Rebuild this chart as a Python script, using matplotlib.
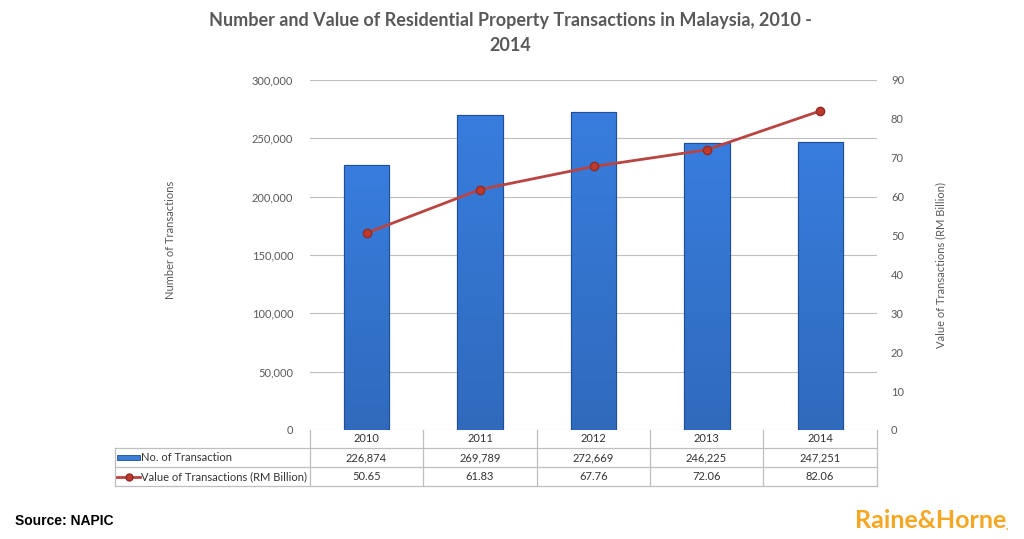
import numpy as np
import matplotlib
matplotlib.use("Agg")
import matplotlib.pyplot as plt
from matplotlib.lines import Line2D
from matplotlib.patches import Rectangle

years = ["2010", "2011", "2012", "2013", "2014"]
transactions = [226874, 269789, 272669, 246225, 247251]
value_rm_bn = [50.65, 61.83, 67.76, 72.06, 82.06]
row_labels = ["No. of Transaction", "Value of Transactions (RM Billion)"]

W, H = 1024, 539
TXT = "#595959"
GRID = "#bfbfbf"


def fx(px):
    return px / W


def fy(py):
    return 1 - py / H


fig = plt.figure(figsize=(W / 100, H / 100), dpi=100)
plt.rcParams["font.family"] = ["Lato", "DejaVu Sans"]

ax = fig.add_axes([fx(310), fy(430), fx(877) - fx(310), fy(80) - fy(430)])
x = np.arange(len(years))

# bars with a simple vertical gradient
bars = ax.bar(x, transactions, width=0.4, color="#3c7dd6", edgecolor="#1f4f96",
              linewidth=0.8, zorder=2)
grad = np.linspace(0.85, 1.0, 256).reshape(-1, 1)
for b in bars:
    bx, by = b.get_x(), b.get_y()
    bw, bh = b.get_width(), b.get_height()
    im = ax.imshow(np.dstack([0.22 * grad, 0.49 * grad, 0.87 * grad]),
                   extent=[bx, bx + bw, by, by + bh], aspect="auto",
                   origin="lower", zorder=2.1)
    im.set_clip_path(b)
    ax.add_patch(Rectangle((bx, by), bw, bh, fill=False, edgecolor="#1f4f96",
                           linewidth=0.8, zorder=2.2))

ax.set_xlim(-0.5, len(years) - 0.5)
ax.set_ylim(0, 300000)
ax.set_yticks(range(0, 300001, 50000))
ax.set_yticklabels([f"{v:,}" for v in range(0, 300001, 50000)])
ax.set_xticks([])
ax.grid(axis="y", color=GRID, linewidth=0.8, zorder=0)
ax.set_axisbelow(True)
for s in ax.spines.values():
    s.set_visible(False)
ax.tick_params(axis="y", length=0, pad=12, labelsize=8, labelcolor=TXT)
ax.set_ylabel("Number of Transactions", fontsize=8, color=TXT)
ax.yaxis.set_label_coords((176 - 310) / (877 - 310), 0.543)

ax2 = ax.twinx()
ax2.plot(x, value_rm_bn, color="#b94542", linewidth=2.0, marker="o",
         markersize=6, markerfacecolor="#c0392b", markeredgecolor="#8c2c2a",
         zorder=3)
ax2.set_ylim(0, 90)
ax2.set_yticks(range(0, 91, 10))
for s in ax2.spines.values():
    s.set_visible(False)
ax2.tick_params(axis="y", length=0, pad=10, labelsize=8, labelcolor=TXT)
ax2.set_ylabel("Value of Transactions (RM Billion)", fontsize=8, color=TXT)
ax2.yaxis.set_label_coords((935 - 310) / (877 - 310), 0.47)

# data table
col_edges = [310, 423, 537, 650, 763, 877]
lkw = dict(color=GRID, linewidth=0.9, transform=fig.transFigure)
for ry in (448, 467, 486):
    fig.add_artist(Line2D([fx(115), fx(877)], [fy(ry), fy(ry)], **lkw))
fig.add_artist(Line2D([fx(115), fx(115)], [fy(448), fy(486)], **lkw))
for c in col_edges:
    fig.add_artist(Line2D([fx(c), fx(c)], [fy(430), fy(486)], **lkw))

for i, yr in enumerate(years):
    cx = fx((col_edges[i] + col_edges[i + 1]) / 2)
    fig.text(cx, fy(439), yr, ha="center", va="center", fontsize=8, color="#333333")
    fig.text(cx, fy(457.5), f"{transactions[i]:,}", ha="center", va="center",
             fontsize=8, color="#333333")
    fig.text(cx, fy(476.5), f"{value_rm_bn[i]:.2f}", ha="center", va="center",
             fontsize=8, color="#333333")

# legend keys
fig.add_artist(Rectangle((fx(117), fy(460)), fx(140) - fx(117), fy(455) - fy(460),
                         facecolor="#3c7dd6", edgecolor="#1f4f96", linewidth=0.6,
                         transform=fig.transFigure))
fig.add_artist(Line2D([fx(117), fx(140)], [fy(476.5), fy(476.5)], color="#b94542",
                      linewidth=2, transform=fig.transFigure))
fig.add_artist(Line2D([fx(128.5)], [fy(476.5)], color="#b94542", marker="o",
                      markersize=5, markerfacecolor="#c0392b",
                      markeredgecolor="#8c2c2a", transform=fig.transFigure))
fig.text(fx(141), fy(457.5), row_labels[0], ha="left", va="center", fontsize=8,
         color="#333333")
fig.text(fx(141), fy(476.5), row_labels[1], ha="left", va="center", fontsize=8,
         color="#333333")

fig.text(fx(510), fy(33), "Number and Value of Residential Property Transactions in Malaysia, 2010 -\n2014",
         ha="center", va="center", fontsize=13, fontweight="bold", color=TXT,
         linespacing=1.55)

fig.text(fx(15), fy(521), "Source: NAPIC", ha="left", va="center", fontsize=10,
         fontweight="bold", family=["Liberation Sans", "DejaVu Sans"], color="black")
fig.text(fx(1006), fy(521), "Raine&Horne", ha="right", va="center", fontsize=18,
         fontweight="bold", color="#f5a623")
fig.text(fx(1006), fy(526), ".", ha="left", va="center", fontsize=8,
         fontweight="bold", color="#f5a623")

fig.savefig("out.png", dpi=100, facecolor="white")
